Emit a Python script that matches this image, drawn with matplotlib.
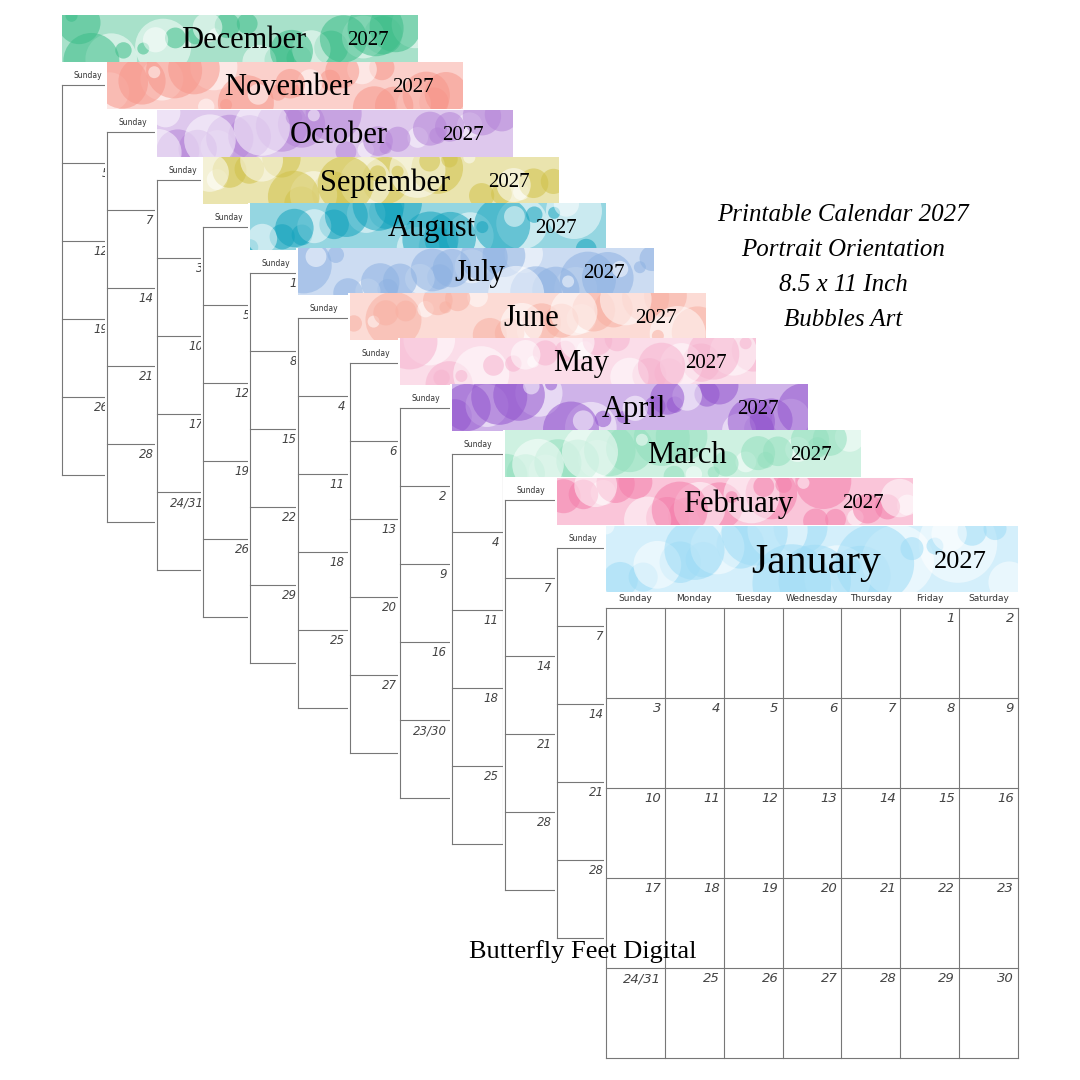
import matplotlib
matplotlib.use("Agg")
import matplotlib.pyplot as plt
from matplotlib.patches import Rectangle, Circle
import numpy as np

months = ["January","February","March","April","May","June","July","August",
          "September","October","November","December"]
year = "2027"
first_weekday = [5,1,1,4,6,2,4,0,3,5,1,3]   # Sunday = 0
days_in_month = [31,28,31,30,31,30,31,31,30,31,30,31]
day_names = ["Sunday","Monday","Tuesday","Wednesday","Thursday","Friday","Saturday"]
colors = ["#9fdcf6","#f47fab","#92dfbd","#9457cf","#f6b3cf","#f8b0a2",
          "#8eb2e2","#14a3bd","#d1c24a","#b585d8","#f7978b","#3dbd89"]
header_x = [606,557,505,452,400,350,298,250,203,157,107,62]
header_y = [526,478,430,384,338,293,248,203,157,110,62,15]
info_lines = ["Printable Calendar 2027","Portrait Orientation","8.5 x 11 Inch","Bubbles Art"]
brand = "Butterfly Feet Digital"

fig = plt.figure(figsize=(10.8,10.8), dpi=100)
ax = fig.add_axes([0,0,1,1])
ax.set_xlim(0,1080); ax.set_ylim(1080,0); ax.axis("off")

def lighten(c, f):
    c = np.array(matplotlib.colors.to_rgb(c))
    return tuple(c + (1-c)*f)

phi = 0.6180339887
for mi in range(11, -1, -1):
    z = (12-mi)*10
    big = (mi == 0)
    hx, hy = header_x[mi], header_y[mi]
    W = 412 if big else 356
    H = 66 if big else 47
    cw = W/7
    rh = 90 if big else 78
    gap = 16 if big else 23
    gy = hy + H + gap
    ax.add_patch(Rectangle((hx-2, hy), W+4, H+gap+5*rh+4, fc="white", ec="none", zorder=z))
    hdr = ax.add_patch(Rectangle((hx, hy), W, H, fc=lighten(colors[mi], 0.55), ec="none", zorder=z+1))
    for k in range(26):
        fx = (k*phi + mi*0.13) % 1
        fy = (k*0.754877 + mi*0.31) % 1
        r = (6 + ((k*7+mi*3) % 11)*2.2) * (H/47)
        col = colors[mi] if k % 3 else "white"
        a = 0.55 if k % 3 else 0.5
        c = ax.add_patch(Circle((hx+fx*W, hy+fy*H), r, fc=col, ec="none", alpha=a, zorder=z+2))
        c.set_clip_path(hdr)
    ax.text(hx+W*0.51, hy+H*0.55, months[mi], fontsize=30 if big else 22,
            family="Liberation Serif", ha="center", va="center", zorder=z+3)
    ax.text(hx+W*0.86, hy+H*0.55, year, fontsize=19 if big else 15,
            family="Liberation Serif", ha="center", va="center", zorder=z+3)
    for d in range(7):
        ax.text(hx+cw*(d+0.5), gy-5, day_names[d], fontsize=6.5 if big else 5.5,
                family="DejaVu Sans", ha="center", va="bottom", zorder=z+3, color="#333")
    for r in range(6):
        ax.plot([hx, hx+W], [gy+r*rh]*2, color="#777", lw=0.8, zorder=z+3)
    for d in range(8):
        ax.plot([hx+d*cw]*2, [gy, gy+5*rh], color="#777", lw=0.8, zorder=z+3)
    cells = {}
    for day in range(1, days_in_month[mi]+1):
        idx = first_weekday[mi] + day - 1
        row, col = idx//7, idx % 7
        if row >= 5:
            row -= 1
        cells.setdefault((row, col), []).append(str(day))
    for (row, col), lab in cells.items():
        ax.text(hx+(col+1)*cw-4, gy+row*rh+4, "/".join(lab), fontsize=9.5 if big else 8.5,
                style="italic", family="DejaVu Sans", color="#444",
                ha="right", va="top", zorder=z+4)

for i, t in enumerate(info_lines):
    ax.text(843, 215+i*35, t, fontsize=18, style="italic", family="Liberation Serif",
            ha="center", va="center", zorder=500)
ax.text(583, 952, brand, fontsize=19, family="Liberation Serif", ha="center",
        va="center", zorder=500)
fig.savefig("out.png", dpi=100)
